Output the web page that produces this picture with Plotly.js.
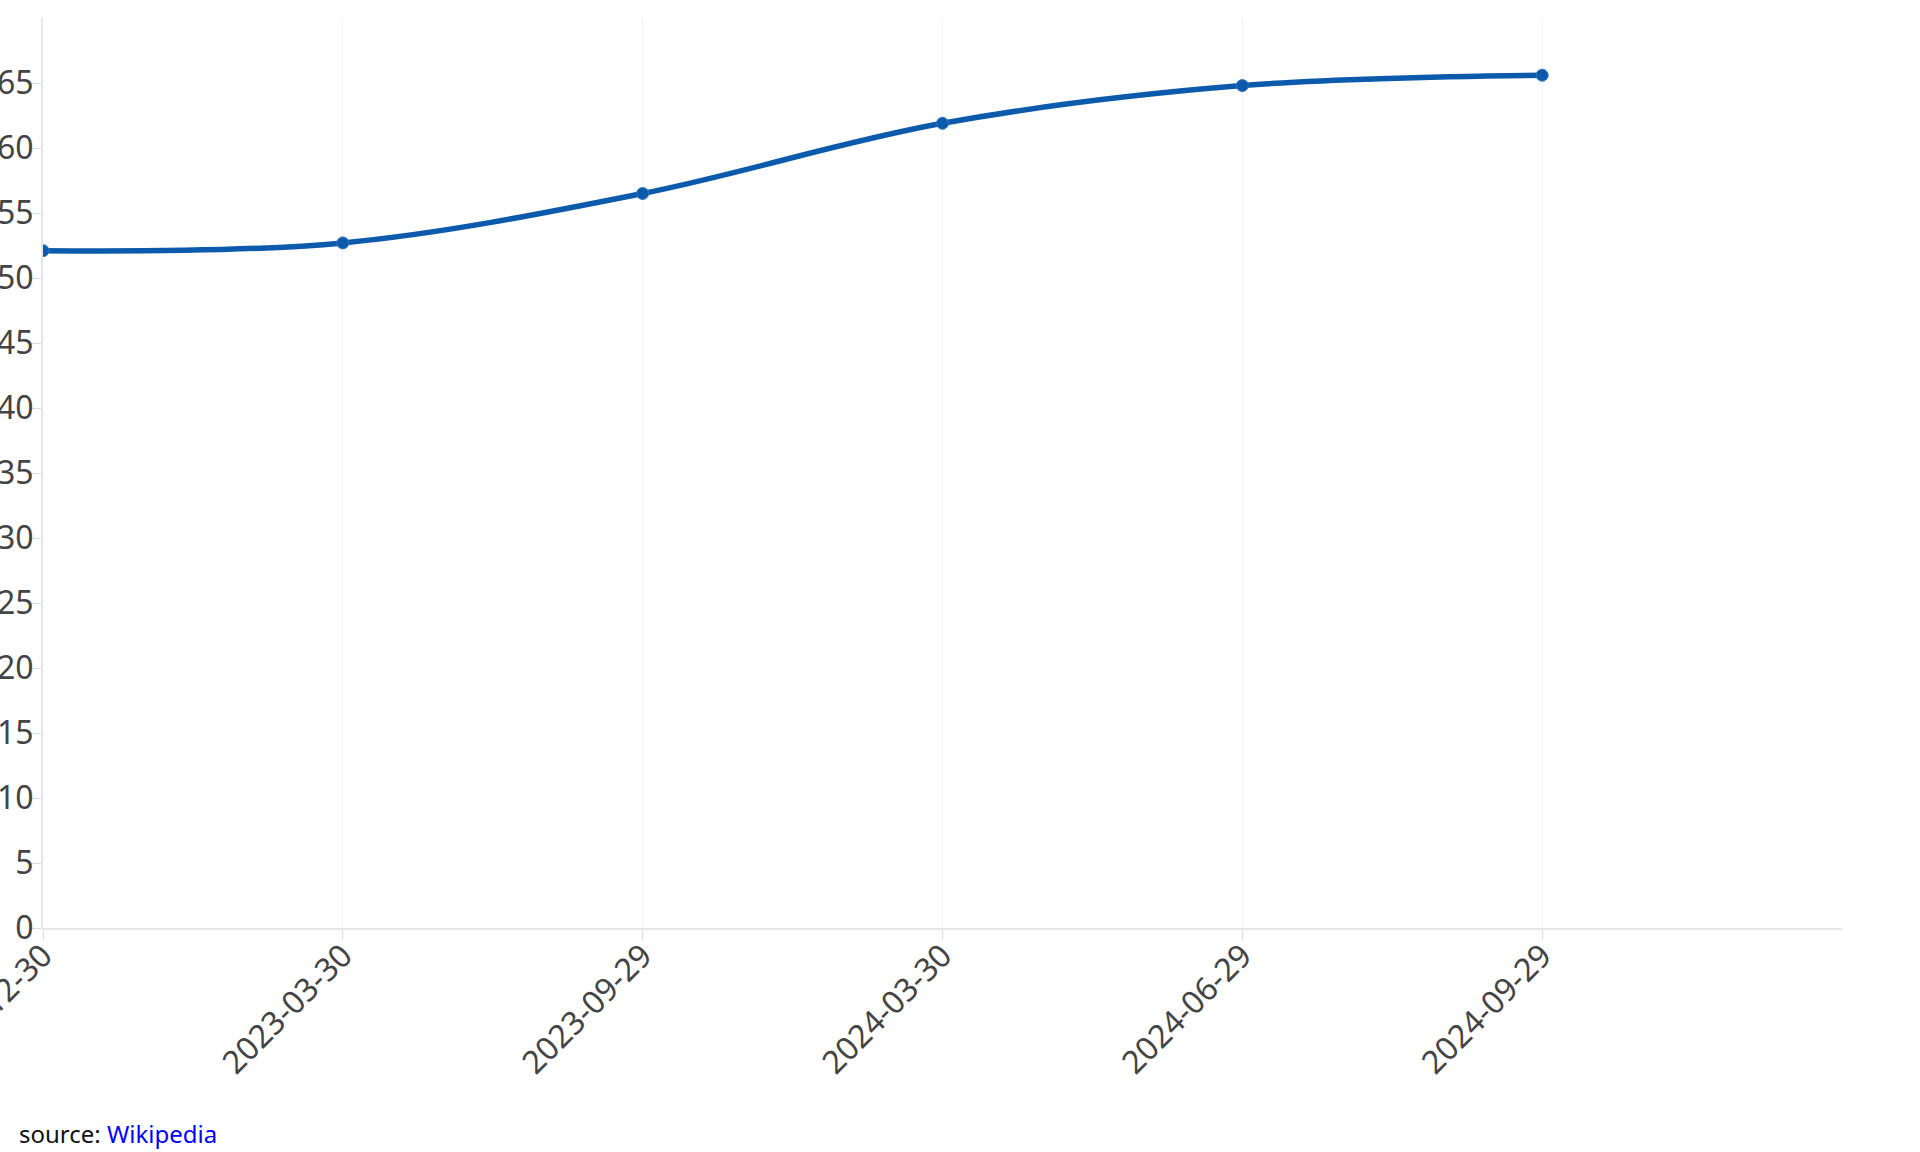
<!DOCTYPE html>
<html>
<head>
<meta charset="utf-8">
<script src="https://cdn.plot.ly/plotly-3.0.1.min.js"></script>
<style>
  html, body { margin: 0; padding: 0; background: #fff; }
  #chart { width: 1920px; height: 1152px; }
</style>
</head>
<body>
<div id="chart"></div>
<script>
// Data
const dates = ['2022-12-30', '2023-03-30', '2023-09-29', '2024-03-30', '2024-06-29', '2024-09-29'];
const values = [52.1, 52.7, 56.5, 61.9, 64.8, 65.6];
const yTicks = [0, 5, 10, 15, 20, 25, 30, 35, 40, 45, 50, 55, 60, 65];

const lineColor = '#0b5aab';
const tickFont = { family: 'Noto Sans, sans-serif', size: 32, color: '#444' };

const trace = {
    x: dates,
    y: values,
    type: 'scatter',
    mode: 'lines+markers',
    line: { color: lineColor, width: 5.5, shape: 'spline' },
    marker: { color: lineColor, size: 12, line: { color: '#2f78c0', width: 1 } },
    hoverinfo: 'x+y'
};

const layout = {
    width: 1920,
    height: 1152,
    paper_bgcolor: '#fff',
    plot_bgcolor: '#fff',
    margin: { t: 18, r: 78, b: 224, l: 43 },
    showlegend: false,
    xaxis: {
        type: 'category',
        range: [0, 6],
        tickangle: -45,
        tickfont: tickFont,
        ticklabelstandoff: -16,
        showgrid: true,
        gridcolor: '#f2f2f2',
        gridwidth: 1,
        showline: true,
        linecolor: '#e6e6e6',
        linewidth: 2,
        ticks: 'outside',
        ticklen: 10,
        tickcolor: '#d8dde3',
        zeroline: false,
        fixedrange: true
    },
    yaxis: {
        range: [0, 70],
        tickvals: yTicks,
        tickfont: tickFont,
        ticklabelstandoff: -9,
        showgrid: false,
        showline: true,
        linecolor: '#e6e6e6',
        linewidth: 2,
        ticks: 'outside',
        ticklen: 10,
        tickcolor: '#d8dde3',
        zeroline: false,
        fixedrange: true
    },
    annotations: [{
        xref: 'paper', yref: 'paper',
        x: -0.0145, y: -0.246,
        xanchor: 'left', yanchor: 'bottom',
        showarrow: false,
        align: 'left',
        text: 'source: <a href="https://en.wikipedia.org" style="color:#0000ff">Wikipedia</a>',
        font: { family: 'Noto Sans, sans-serif', size: 24, color: '#111' }
    }]
};

Plotly.newPlot('chart', [trace], layout, { displayModeBar: false });
</script>
</body>
</html>
